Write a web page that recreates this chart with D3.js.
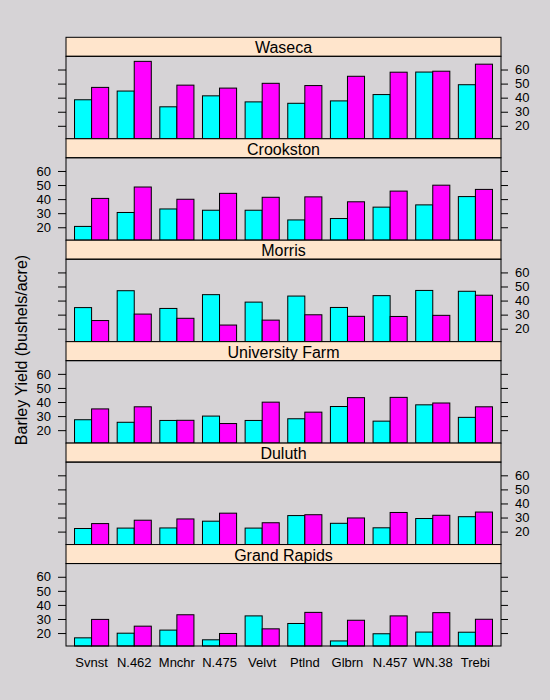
<!DOCTYPE html>
<html>
<head>
<meta charset="utf-8">
<script src="https://cdn.jsdelivr.net/npm/d3@7"></script>
<style>
  html, body { margin: 0; padding: 0; background: #d6d3d6; }
  svg { display: block; font-family: "Liberation Sans", Arial, sans-serif; }
  .strip-text { font-size: 16px; }
  .tick-label { font-size: 13px; }
  .x-label { font-size: 13px; }
  .y-title { font-size: 16px; }
</style>
</head>
<body>
<div id="chart"></div>
<script>
// varieties, left to right
const varieties = ["Svnst", "N.462", "Mnchr", "N.475", "Velvt", "Ptlnd", "Glbrn", "N.457", "WN.38", "Trebi"];
// sites, top to bottom
const sites = ["Waseca", "Crookston", "Morris", "University Farm", "Duluth", "Grand Rapids"];
const years = ["1932", "1931"];
const yTicks = [20, 30, 40, 50, 60];

// yield per site, variety order as above
const yield1932 = {
    "Waseca":          [38.5, 44.7, 33.5, 41.3, 37.0, 36.0, 37.7, 42.2, 58.2, 49.2],
    "Crookston":       [20.6, 30.5, 33.0, 32.1, 32.1, 25.2, 26.2, 34.3, 35.9, 41.8],
    "Morris":          [35.0, 47.0, 34.4, 44.2, 38.9, 43.2, 35.1, 43.5, 47.2, 46.6],
    "University Farm": [27.4, 25.6, 26.9, 30.0, 26.9, 28.1, 36.8, 26.4, 38.0, 29.1],
    "Duluth":          [22.2, 22.5, 22.6, 27.4, 22.5, 31.4, 25.9, 22.7, 29.3, 30.6],
    "Grand Rapids":    [16.6, 19.9, 22.1, 15.2, 32.2, 26.8, 14.4, 19.5, 20.7, 20.6]
};
const yield1931 = {
    "Waseca":          [47.3, 65.8, 48.9, 46.8, 50.2, 48.6, 55.2, 58.1, 58.8, 63.8],
    "Crookston":       [40.5, 48.6, 39.9, 44.1, 41.3, 41.6, 38.1, 45.7, 49.9, 46.9],
    "Morris":          [25.8, 30.4, 27.4, 22.6, 26.1, 29.9, 28.8, 28.7, 29.5, 43.8],
    "University Farm": [35.1, 36.6, 27.0, 24.7, 39.9, 32.8, 43.1, 43.3, 39.3, 36.6],
    "Duluth":          [25.7, 28.1, 29.0, 33.1, 26.3, 32.0, 29.7, 33.6, 31.6, 33.9],
    "Grand Rapids":    [29.7, 24.9, 33.0, 19.7, 23.0, 34.7, 29.1, 32.2, 34.5, 29.8]
};

const width = 550, height = 700;
const left = 66, right = 501;
const top0 = 37.3, panelH = 101.45, stripH = 19;

const svg = d3.select("#chart")
    .append("svg")
    .attr("width", width)
    .attr("height", height);

svg.append("rect")
    .attr("width", width)
    .attr("height", height)
    .attr("fill", "#d6d3d6");

// shared scales (lattice pads numeric range by 7%)
const all = sites.flatMap(s => yield1932[s].concat(yield1931[s]));
const [lo, hi] = d3.extent(all);
const pad = (hi - lo) * 0.07;

const x = d3.scaleBand()
    .domain(varieties)
    .range([left + 0.1 * (right - left) / 10.2, right - 0.1 * (right - left) / 10.2])
    .paddingInner(0.2)
    .paddingOuter(0.1);

const xYear = d3.scaleBand()
    .domain(years)
    .range([0, x.bandwidth()]);

const color = d3.scaleOrdinal()
    .domain(years)
    .range(["#00ffff", "#ff00ff"]);

sites.forEach((site, i) => {
    const stripTop = top0 + i * panelH;
    const plotTop = stripTop + stripH;
    const plotBottom = stripTop + panelH;

    const y = d3.scaleLinear()
        .domain([lo - pad, hi + pad])
        .range([plotBottom, plotTop]);

    const g = svg.append("g").attr("class", "panel");

    // strip
    g.append("rect")
        .attr("x", left)
        .attr("y", stripTop)
        .attr("width", right - left)
        .attr("height", stripH)
        .attr("fill", "#ffe5cc")
        .attr("stroke", "black");

    g.append("text")
        .attr("class", "strip-text")
        .attr("x", (left + right) / 2)
        .attr("y", stripTop + 16)
        .attr("text-anchor", "middle")
        .text(site);

    // bars
    const rows = varieties.map((v, j) => ({
        variety: v,
        values: [
            {year: "1932", value: yield1932[site][j]},
            {year: "1931", value: yield1931[site][j]}
        ]
    }));

    g.append("g")
        .selectAll("g")
        .data(rows)
        .enter()
        .append("g")
        .attr("transform", d => `translate(${x(d.variety)},0)`)
        .selectAll("rect")
        .data(d => d.values)
        .enter()
        .append("rect")
        .attr("x", d => xYear(d.year))
        .attr("y", d => y(d.value))
        .attr("width", xYear.bandwidth())
        .attr("height", d => plotBottom - y(d.value))
        .attr("fill", d => color(d.year))
        .attr("stroke", "black");

    // panel border
    g.append("rect")
        .attr("x", left)
        .attr("y", plotTop)
        .attr("width", right - left)
        .attr("height", plotBottom - plotTop)
        .attr("fill", "none")
        .attr("stroke", "black");

    // y axes: ticks both sides, labels alternate (right on even rows)
    const labelRight = i % 2 === 0;
    const axisL = d3.axisLeft(y).tickValues(yTicks).tickSize(8).tickPadding(7)
        .tickFormat(labelRight ? "" : d3.format("d"));
    const axisR = d3.axisRight(y).tickValues(yTicks).tickSize(7).tickPadding(7)
        .tickFormat(labelRight ? d3.format("d") : "");

    [g.append("g").attr("transform", `translate(${left},0)`).call(axisL),
     g.append("g").attr("transform", `translate(${right},0)`).call(axisR)]
        .forEach(ax => {
            ax.select(".domain").remove();
            ax.selectAll("line").attr("stroke", "black");
            ax.selectAll("text")
                .attr("class", "tick-label")
                .attr("fill", "black")
                .style("font-family", null)
                .style("font-size", null);
            ax.attr("font-family", null).attr("font-size", null);
        });
});

// x labels under bottom panel
svg.append("g")
    .selectAll("text")
    .data(varieties)
    .enter()
    .append("text")
    .attr("class", "x-label")
    .attr("x", d => x(d) + x.bandwidth() / 2)
    .attr("y", 667)
    .attr("text-anchor", "middle")
    .text(d => d);

// y title
svg.append("text")
    .attr("class", "y-title")
    .attr("transform", "translate(21.5,350) rotate(-90)")
    .attr("text-anchor", "middle")
    .attr("dominant-baseline", "central")
    .text("Barley Yield (bushels/acre)");
</script>
</body>
</html>
